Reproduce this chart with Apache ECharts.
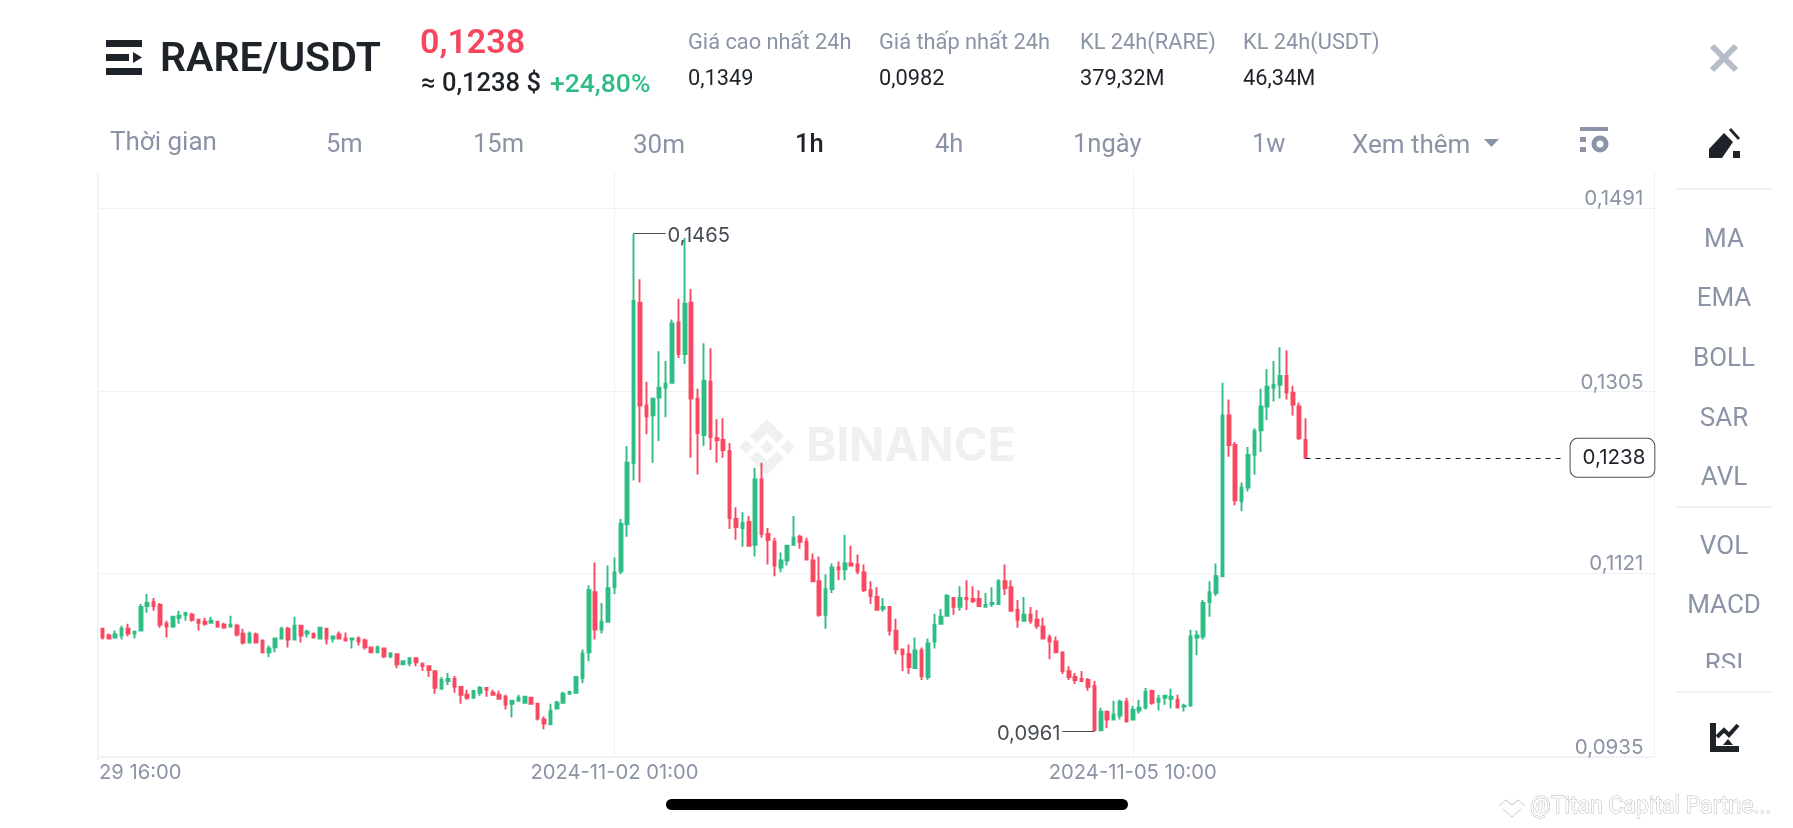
<!DOCTYPE html>
<html>
<head>
<meta charset="utf-8">
<title>RARE/USDT</title>
<script src="https://cdn.jsdelivr.net/npm/echarts@6/dist/echarts.min.js"></script>
<style>
html, body { margin: 0; padding: 0; background: #fff; }
#main { width: 1793px; height: 828px; }
</style>
</head>
<body>
<div id="main"></div>
<script>
var opens = [
  1065,1058,1056,1058,1065,1060,1063,1088,1092,1089,
  1070,1067,1076,1079,1079,1074,1072,1071,1072,1069,
  1067,1068,1060,1051,1059,1053,1041,1046,1055,1065,
  1054,1068,1060,1060,1055,1065,1055,1059,1055,1054,
  1055,1053,1046,1041,1045,1037,1039,1029,1030,1035,
  1029,1027,1022,1004,1012,1014,1006,998,995,1000,
  1005,1000,998,996,989,992,990,995,989,973,
  968,984,990,999,1000,1015,1041,1102,1064,1072,
  1107,1123,1171,1233,1395,1291,1281,1299,1309,1314,
  1375,1343,1395,1298,1261,1315,1258,1256,1245,1176,
  1167,1173,1150,1216,1161,1153,1127,1134,1150,1158,
  1153,1134,1113,1079,1105,1127,1125,1131,1130,1122,
  1104,1097,1085,1087,1063,1044,1039,1025,1043,1016,
  1052,1070,1078,1096,1087,1096,1095,1095,1087,1090,
  1090,1113,1107,1084,1073,1079,1074,1067,1056,1052,
  1041,1022,1016,1014,1013,1007,962,981,973,977,
  991,973,982,985,1002,991,995,994,993,986,
  987,1056,1057,1092,1101,1118,1281,1251,1194,1208,
  1241,1266,1290,1309,1312,1321,1304,1290,1256
];
var closes = [
  1056,1055,1059,1065,1060,1062,1087,1091,1088,1069,
  1067,1077,1078,1081,1074,1071,1070,1073,1067,1066,
  1069,1059,1051,1060,1051,1041,1045,1055,1065,1054,
  1068,1058,1062,1056,1066,1055,1057,1055,1053,1055,
  1052,1046,1041,1046,1037,1040,1029,1032,1035,1031,
  1027,1023,1005,1013,1014,1006,998,995,1002,1005,
  1003,998,994,988,992,995,996,989,974,969,
  982,990,999,1001,1016,1040,1104,1064,1072,1106,
  1122,1171,1233,1397,1291,1280,1298,1309,1313,1374,
  1343,1394,1298,1263,1316,1259,1256,1246,1177,1168,
  1172,1149,1216,1161,1155,1129,1134,1149,1157,1153,
  1135,1113,1079,1105,1127,1125,1131,1129,1123,1104,
  1098,1084,1087,1063,1044,1039,1026,1043,1017,1050,
  1069,1077,1098,1087,1096,1095,1093,1088,1089,1091,
  1113,1106,1083,1074,1079,1073,1068,1055,1052,1041,
  1022,1016,1013,1012,1006,962,981,973,978,991,
  971,983,985,1001,990,994,997,996,985,987,
  1057,1058,1091,1102,1118,1281,1251,1195,1208,1241,
  1265,1290,1310,1312,1321,1304,1292,1258,1238
];
var lows = [
  1054,1054,1055,1054,1057,1055,1063,1081,1083,1066,
  1056,1066,1070,1073,1072,1063,1068,1071,1066,1065,
  1066,1057,1049,1051,1050,1040,1036,1041,1054,1046,
  1054,1051,1056,1055,1054,1049,1051,1054,1053,1045,
  1048,1044,1040,1040,1035,1035,1025,1028,1027,1027,
  1022,1016,999,1003,1008,1000,989,993,994,997,
  996,998,994,983,975,991,990,988,972,963,
  968,983,989,998,999,1010,1032,1054,1060,1072,
  1100,1120,1158,1215,1213,1262,1233,1255,1279,1313,
  1339,1333,1238,1221,1250,1246,1233,1238,1166,1155,
  1148,1148,1138,1157,1130,1118,1122,1129,1149,1146,
  1134,1113,1077,1065,1101,1114,1114,1128,1120,1102,
  1090,1083,1082,1058,1039,1022,1019,1025,1013,1013,
  1045,1069,1078,1079,1083,1084,1091,1087,1087,1087,
  1089,1099,1082,1066,1073,1070,1065,1055,1034,1040,
  1019,1013,1009,1011,1002,961,962,964,972,973,
  970,972,979,983,988,982,988,984,984,981,
  986,1038,1054,1077,1098,1117,1239,1190,1184,1204,
  1221,1244,1276,1295,1298,1297,1281,1256,1238
];
var highs = [
  1065,1060,1063,1068,1070,1063,1090,1100,1096,1091,
  1073,1077,1083,1081,1081,1074,1076,1077,1073,1071,
  1078,1070,1065,1062,1061,1054,1048,1056,1067,1067,
  1077,1069,1064,1061,1067,1066,1057,1062,1061,1055,
  1057,1055,1046,1048,1046,1041,1039,1032,1035,1035,
  1031,1028,1022,1016,1020,1017,1006,1003,1003,1007,
  1005,1003,1002,998,992,998,997,995,989,976,
  989,992,1001,1002,1017,1044,1109,1132,1091,1129,
  1137,1176,1250,1465,1419,1315,1299,1346,1336,1378,
  1399,1461,1409,1308,1354,1349,1277,1278,1253,1188,
  1183,1179,1228,1233,1167,1157,1142,1149,1179,1160,
  1157,1141,1138,1120,1131,1133,1160,1149,1140,1130,
  1113,1107,1096,1087,1075,1044,1049,1056,1046,1055,
  1080,1085,1100,1096,1108,1114,1108,1104,1101,1107,
  1115,1130,1114,1094,1097,1087,1084,1076,1059,1057,
  1042,1027,1020,1022,1015,1012,985,982,992,993,
  995,987,993,1005,1003,998,998,1004,998,989,
  1064,1063,1094,1113,1131,1314,1297,1254,1213,1249,
  1268,1308,1328,1336,1350,1347,1311,1294,1278
];
var yTicks = [0.0935, 0.1121, 0.1305, 0.1491];
var xTickIndexes = [0, 81, 162];
var xTickLabels = ['29 16:00', '2024-11-02 01:00', '2024-11-05 10:00'];
var lastPrice = 0.1238;
var highPoint = { index: 84, price: 0.1465, labelIndex: 89 };
var lowPoint = { index: 156, price: 0.0961, labelIndex: 151 };
var slotCount = 244; // hourly slots across the plot, the right part is empty

var UP = '#2ebd85', DOWN = '#f84960', GRID = '#f0f1f4', GREY = '#8a94a6', DARK = '#1e2329';
var UI_FONT = 'Roboto', AXIS_FONT = 'Inter';

function fmt(v) {
  return v.toFixed(4).replace('.', ',');
}

// one slot per hour, 16:00 on 29 Oct has no candle on screen
var categories = [];
for (var i = 0; i < slotCount; i++) {
  var d = new Date(Date.UTC(2024, 9, 29, 16 + i));
  categories.push(d.toISOString().slice(0, 16).replace('T', ' '));
}
var candles = [['-', '-', '-', '-']];
opens.forEach(function (o, k) {
  candles.push([o / 10000, closes[k] / 10000, lows[k] / 10000, highs[k] / 10000]);
});

function text(x, y, str, size, color, weight, align) {
  return {
    type: 'text', x: x, y: y, z: 10,
    style: {
      text: str, fill: color,
      font: (weight || 400) + ' ' + size + 'px ' + UI_FONT,
      align: align || 'left', verticalAlign: 'middle'
    }
  };
}
function rect(x, y, w, h, color, z, r) {
  return { type: 'rect', z: z || 10, shape: { x: x, y: y, width: w, height: h, r: r || 0 }, style: { fill: color } };
}
function poly(points, color, z) {
  return { type: 'polygon', z: z || 10, shape: { points: points }, style: { fill: color } };
}
function stroke(points, color, w) {
  return { type: 'polyline', z: 10, shape: { points: points }, style: { stroke: color, lineWidth: w, fill: null } };
}

var WM = '#eff0f1';
function wmDiamond(cx, cy, r) {
  return poly([[cx, cy - r], [cx + r, cy], [cx, cy + r], [cx - r, cy]], WM, 1);
}
var cx = 767, cy = 447;
var graphics = [
  // watermark under the candles
  wmDiamond(cx, cy, 7), wmDiamond(cx - 21, cy, 7), wmDiamond(cx + 21, cy, 7),
  poly([[cx, cy - 28], [cx + 17, cy - 11], [cx + 10, cy - 4], [cx, cy - 14], [cx - 10, cy - 4], [cx - 17, cy - 11]], WM, 1),
  poly([[cx, cy + 28], [cx + 17, cy + 11], [cx + 10, cy + 4], [cx, cy + 14], [cx - 10, cy + 4], [cx - 17, cy + 11]], WM, 1),
  { type: 'text', x: 806, y: 447, z: 1, style: { text: 'BINANCE', fill: WM, font: '700 46px ' + AXIS_FONT, align: 'left', verticalAlign: 'middle' } },

  // clip of the plot at its left edge, and the edge itself
  rect(0, 170, 97, 610, '#fff', 20),
  rect(97, 172, 1.5, 588, GRID, 21),

  // header
  rect(106, 40, 36, 7, DARK), rect(106, 54, 23, 7, DARK), rect(106, 68, 36, 7, DARK),
  poly([[133, 52], [142, 57.5], [133, 63]], DARK),
  text(160, 61, 'RARE/USDT', 41, DARK, 600),
  text(420, 44, '0,1238', 34, '#f6465d', 600),
  text(421, 85, '≈ 0,1238 $', 25.5, DARK, 500),
  text(550, 85, '+24,80%', 26.5, UP, 500),
  text(688, 44, 'Giá cao nhất 24h', 21.8, GREY),
  text(688, 79.5, '0,1349', 21.8, DARK),
  text(879, 44, 'Giá thấp nhất 24h', 21.8, GREY),
  text(879, 79.5, '0,0982', 21.8, DARK),
  text(1080, 44, 'KL 24h(RARE)', 21.8, GREY),
  text(1080, 79.5, '379,32M', 21.8, DARK),
  text(1243, 44, 'KL 24h(USDT)', 21.8, GREY),
  text(1243, 79.5, '46,34M', 21.8, DARK),
  stroke([[1712, 46], [1736, 70]], '#b7bdc6', 6),
  stroke([[1736, 46], [1712, 70]], '#b7bdc6', 6),

  // interval tabs
  text(110, 143.5, 'Thời gian', 26, GREY),
  text(326, 146, '5m', 25.5, GREY),
  text(473, 146, '15m', 25.5, GREY),
  text(633, 146, '30m', 26, GREY),
  text(795, 146, '1h', 25.5, DARK, 500),
  text(935, 146, '4h', 25.5, GREY),
  text(1073, 146, '1ngày', 25.5, GREY),
  text(1252, 146, '1w', 25.5, GREY),
  text(1352, 146, 'Xem thêm', 26, GREY),
  poly([[1484, 139], [1499, 139], [1491.5, 147]], GREY),

  // settings icon
  rect(1580, 127, 28, 4, GREY),
  rect(1580, 137, 6, 5, GREY), rect(1580, 147, 6, 5, GREY),
  { type: 'circle', z: 10, shape: { cx: 1600, cy: 144, r: 6 }, style: { fill: 'none', stroke: GREY, lineWidth: 5 } },

  // pencil icon
  poly([[1709, 158], [1709, 149], [1724, 133], [1733, 142], [1722, 158]], DARK),
  poly([[1729, 130], [1731, 128], [1740, 138], [1738, 140]], DARK),
  rect(1733, 151, 7, 7, DARK),

  // indicator panel
  rect(1676, 188, 97, 2, GRID),
  text(1724, 240, 'MA', 26, GREY, 400, 'center'),
  text(1724, 299.5, 'EMA', 26, GREY, 400, 'center'),
  text(1724, 359, 'BOLL', 26, GREY, 400, 'center'),
  text(1724, 419, 'SAR', 26, GREY, 400, 'center'),
  text(1724, 478.5, 'AVL', 26, GREY, 400, 'center'),
  rect(1676, 506, 97, 2, GRID),
  text(1724, 547, 'VOL', 26, GREY, 400, 'center'),
  text(1724, 606, 'MACD', 26, GREY, 400, 'center'),
  text(1724, 665, 'RSI', 26, GREY, 400, 'center'),
  rect(1676, 668, 97, 22, '#fff', 11),
  rect(1676, 691, 97, 2, GRID),

  // chart type icon
  rect(1710, 723, 6, 29, DARK), rect(1710, 746, 29, 6, DARK),
  stroke([[1717, 737], [1724, 730], [1729, 735], [1738, 725]], DARK, 4),
  poly([[1723, 745], [1733, 745], [1728, 739]], DARK),

  // phone home bar
  rect(666, 799, 462, 11, '#000', 10, 5.5),

  // repost credit
  stroke([[1499, 806], [1506, 800], [1512, 805], [1518, 800], [1525, 806]], '#c4c7cc', 1),
  stroke([[1503, 809], [1512, 817], [1521, 809]], '#c4c7cc', 1),
  {
    type: 'text', x: 1530, y: 807, z: 10,
    style: { text: '@Titan Capital Partne...', fill: '#fff', stroke: '#b5b8bd', lineWidth: 1, font: '400 23px ' + UI_FONT, align: 'left', verticalAlign: 'middle' }
  }
];

var myChart = echarts.init(document.getElementById('main'));

myChart.setOption({
  animation: false,
  backgroundColor: '#fff',
  textStyle: { fontFamily: AXIS_FONT },
  grid: { left: 92.8, top: 172, width: 1561.6, height: 585 },
  graphic: { elements: graphics },
  xAxis: {
    type: 'category',
    data: categories,
    axisLine: { lineStyle: { color: GRID, width: 1.5 } },
    axisTick: { show: false },
    axisLabel: {
      interval: function (index) { return xTickIndexes.indexOf(index) >= 0; },
      formatter: function (value, index) { return index === 0 ? '{first|' + xTickLabels[0] + '}' : xTickLabels[xTickIndexes.indexOf(index)]; },
      rich: { first: { padding: [0, 0, 0, 3], color: GREY, fontSize: 20.2, fontFamily: AXIS_FONT } },
      alignMinLabel: 'left',
      color: GREY,
      fontSize: 20.2,
      fontFamily: AXIS_FONT,
      margin: 6
    },
    splitLine: {
      show: true,
      alignWithLabel: true,
      interval: function (index) { return index === 81 || index === 162; },
      lineStyle: { color: GRID, width: 1 }
    }
  },
  yAxis: {
    type: 'value',
    position: 'right',
    min: 0.0935,
    max: 0.15275,
    axisLine: { show: true, lineStyle: { color: GRID, width: 1 } },
    axisTick: { show: false, customValues: yTicks },
    axisLabel: {
      inside: true,
      customValues: yTicks,
      formatter: fmt,
      color: GREY,
      fontSize: 20.5,
      lineHeight: 18.5,
      fontFamily: AXIS_FONT,
      margin: 11,
      verticalAlign: 'bottom'
    },
    splitLine: { show: true, lineStyle: { color: GRID, width: 1 } }
  },
  series: [{
    type: 'candlestick',
    data: candles,
    barWidth: 3,
    itemStyle: { color: UP, color0: DOWN, borderColor: UP, borderColor0: DOWN, borderWidth: 1.9 },
    markLine: {
      silent: true,
      symbol: 'none',
      animation: false,
      data: [
        [
          {
            coord: [highPoint.index, highPoint.price],
            lineStyle: { color: '#474d57', width: 1, type: 'solid' },
            label: { formatter: fmt(highPoint.price), position: 'end', distance: 2, offset: [0, 2], color: '#474d57', fontSize: 20.2, fontFamily: AXIS_FONT }
          },
          { coord: [highPoint.labelIndex, highPoint.price] }
        ],
        [
          {
            coord: [lowPoint.index, lowPoint.price],
            lineStyle: { color: '#474d57', width: 1, type: 'solid' },
            label: { formatter: fmt(lowPoint.price), position: 'end', distance: 2, offset: [0, 3], color: '#474d57', fontSize: 20.2, fontFamily: AXIS_FONT }
          },
          { coord: [lowPoint.labelIndex, lowPoint.price] }
        ],
        [
          {
            coord: [189, lastPrice],
            lineStyle: { color: DARK, width: 1, type: [5, 5] },
            label: {
              formatter: fmt(lastPrice), position: 'end', distance: 9, color: DARK, fontSize: 20.5, fontFamily: AXIS_FONT,
              backgroundColor: '#fff', borderColor: '#474d57', borderWidth: 1, borderRadius: 7, padding: [9, 9, 8, 12]
            }
          },
          { coord: [229, lastPrice] }
        ]
      ]
    }
  }]
});
</script>
</body>
</html>
